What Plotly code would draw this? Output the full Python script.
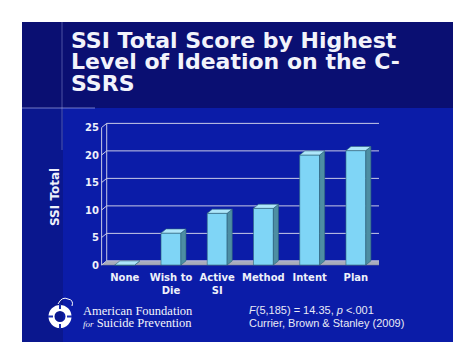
import plotly.graph_objects as go

# ---- data ----
categories = ["None", "Wish to<br>Die", "Active<br>SI", "Method", "Intent", "Plan"]
ssi_total = [0.0, 5.8, 9.4, 10.3, 20.0, 20.8]
y_ticks = [0, 5, 10, 15, 20, 25]
title_lines = ["SSI Total Score by Highest", "Level of Ideation on the C-", "SSRS"]

W, H = 474, 364
OX, OY = 8, 8  # page body offset of the figure in the window
# target plot area in window pixels
PL, PR, PT, PB = 97, 379, 122, 270
ML, MT = PL - OX, PT - OY
MR, MB = W - (PR - OX), H - (PB - OY)
PW, PH = PR - PL, PB - PT

def px(x):
    return (x - PL) / PW

def py(y):
    return (PB - y) / PH

xs = list(range(len(categories)))
bar_w = 0.43
dx, dy = 0.11, 0.75  # 3D depth offsets (data units)

FRONT = "#7fd5f6"
TOP = "#aee6fa"
SIDE = "#4d8ea3"
EDGE = "#2f6478"
GRID = "#c9cbe6"

fig = go.Figure()
fig.add_trace(go.Bar(
    x=xs, y=ssi_total, width=bar_w,
    marker=dict(color=FRONT, line=dict(color=EDGE, width=0.6)),
    hoverinfo="skip", showlegend=False,
))

shapes = []
# slide background
shapes.append(dict(type="rect", xref="paper", yref="paper", layer="below",
                   x0=px(22), x1=px(453), y0=py(342), y1=py(22),
                   fillcolor="#0b1ca8", line=dict(width=0)))
shapes.append(dict(type="rect", xref="paper", yref="paper", layer="below",
                   x0=px(22), x1=px(63), y0=py(342), y1=py(108),
                   fillcolor="#0a178e", line=dict(width=0)))
shapes.append(dict(type="rect", xref="paper", yref="paper", layer="below",
                   x0=px(22), x1=px(453), y0=py(108), y1=py(22),
                   fillcolor="#0a0f72", line=dict(width=0)))
# sparkle lines
shapes.append(dict(type="line", xref="paper", yref="paper", layer="below",
                   x0=px(22), x1=px(95), y0=py(108), y1=py(108),
                   line=dict(color="rgba(200,210,255,0.55)", width=1)))
shapes.append(dict(type="line", xref="paper", yref="paper", layer="below",
                   x0=px(62), x1=px(62), y0=py(150), y1=py(22),
                   line=dict(color="rgba(200,210,255,0.35)", width=1)))

# floor
x_left, x_right = -0.5, 5.5
shapes.append(dict(type="path", xref="x", yref="y", layer="below",
                   path=f"M {x_left},0 L {x_right},0 L {x_right+dx},{dy} L {x_left+dx},{dy} Z",
                   fillcolor="#a9adbc", line=dict(color="#7d8190", width=0.6)))
# back wall gridlines and left wall
for t in y_ticks:
    shapes.append(dict(type="line", xref="x", yref="y", layer="below",
                       x0=x_left + dx, x1=x_right + 1, y0=t + dy, y1=t + dy,
                       line=dict(color=GRID, width=1)))
    shapes.append(dict(type="line", xref="x", yref="y", layer="below",
                       x0=x_left, x1=x_left + dx, y0=t, y1=t + dy,
                       line=dict(color=GRID, width=1)))
shapes.append(dict(type="line", xref="x", yref="y", layer="below",
                   x0=x_left + dx, x1=x_left + dx, y0=dy, y1=y_ticks[-1] + dy,
                   line=dict(color=GRID, width=1)))
shapes.append(dict(type="line", xref="x", yref="y", layer="below",
                   x0=x_left, x1=x_left, y0=0, y1=y_ticks[-1],
                   line=dict(color=GRID, width=1)))

# 3D side and top faces of bars
for x, v in zip(xs, ssi_total):
    x0, x1 = x - bar_w / 2, x + bar_w / 2
    shapes.append(dict(type="path", xref="x", yref="y", layer="above",
                       path=f"M {x1},0 L {x1+dx},{dy} L {x1+dx},{v+dy} L {x1},{v} Z",
                       fillcolor=SIDE, line=dict(color=EDGE, width=0.6)))
    shapes.append(dict(type="path", xref="x", yref="y", layer="above",
                       path=f"M {x0},{v} L {x1},{v} L {x1+dx},{v+dy} L {x0+dx},{v+dy} Z",
                       fillcolor=TOP, line=dict(color=EDGE, width=0.6)))

# logo ring
shapes.append(dict(type="circle", xref="paper", yref="paper", layer="above",
                   x0=px(51.5), x1=px(68.5), y0=py(325), y1=py(308),
                   line=dict(color="white", width=6)))
for (a, b, c, d) in [(60, 304, 60, 309), (60, 324, 60, 329), (48, 316.5, 53, 316.5), (67, 316.5, 72, 316.5)]:
    shapes.append(dict(type="line", xref="paper", yref="paper", layer="above",
                       x0=px(a), x1=px(c), y0=py(b), y1=py(d),
                       line=dict(color="#1a2fb0", width=2)))
shapes.append(dict(type="path", xref="paper", yref="paper", layer="above",
                   path=f"M {px(58)},{py(304)} Q {px(62)},{py(296)} {px(68)},{py(299)} Q {px(74)},{py(300)} {px(72)},{py(306)}",
                   line=dict(color="white", width=1)))

annotations = []
for i, (line, yc) in enumerate(zip(title_lines, [41, 62, 83.5])):
    annotations.append(dict(text=f"<b>{line}</b>", xref="paper", yref="paper",
                            x=px(69), y=py(yc), xanchor="left", yanchor="middle",
                            showarrow=False,
                            font=dict(family="DejaVu Sans", size=22, color="#f2f3fb")))
annotations.append(dict(text="<b>SSI Total</b>", xref="paper", yref="paper",
                        x=px(55), y=py(197), xanchor="center", yanchor="middle",
                        textangle=-90, showarrow=False,
                        font=dict(family="DejaVu Sans", size=12, color="#eef0fa")))
annotations.append(dict(text="American Foundation", xref="paper", yref="paper",
                        x=px(81), y=py(311), xanchor="left", yanchor="middle",
                        showarrow=False,
                        font=dict(family="Liberation Serif", size=12.5, color="#f4f5fb")))
annotations.append(dict(text="<i><span style='font-size:9px'>for</span></i> Suicide Prevention",
                        xref="paper", yref="paper",
                        x=px(81), y=py(323), xanchor="left", yanchor="middle",
                        showarrow=False,
                        font=dict(family="Liberation Serif", size=12.5, color="#f4f5fb")))
annotations.append(dict(text="<i>F</i>(5,185) = 14.35, <i>p</i> &lt;.001", xref="paper", yref="paper",
                        x=px(247), y=py(310), xanchor="left", yanchor="middle",
                        showarrow=False,
                        font=dict(family="Liberation Sans", size=11, color="#e8eaf6")))
annotations.append(dict(text="Currier, Brown &amp; Stanley (2009)", xref="paper", yref="paper",
                        x=px(247), y=py(323), xanchor="left", yanchor="middle",
                        showarrow=False,
                        font=dict(family="Liberation Sans", size=11, color="#e8eaf6")))

fig.update_layout(
    width=W, height=H,
    margin=dict(l=ML, r=MR, t=MT, b=MB, pad=0),
    paper_bgcolor="white", plot_bgcolor="rgba(0,0,0,0)",
    shapes=shapes, annotations=annotations,
    xaxis=dict(range=[-0.6, 5.5], tickvals=xs, ticktext=[f"<b>{c}</b>" for c in categories],
               showgrid=False, zeroline=False, showline=False, ticks="",
               tickfont=dict(family="DejaVu Sans", size=10, color="#eef0fa"), fixedrange=True),
    yaxis=dict(range=[-0.909, 26.0], tickvals=y_ticks, ticktext=[f"<b>{t}</b>" for t in y_ticks],
               showgrid=False, zeroline=False, showline=False, ticks="", ticklabelstandoff=-3,
               tickfont=dict(family="DejaVu Sans", size=10, color="#eef0fa"), fixedrange=True),
    bargap=0.5, showlegend=False,
)

fig.write_html("out.html")
